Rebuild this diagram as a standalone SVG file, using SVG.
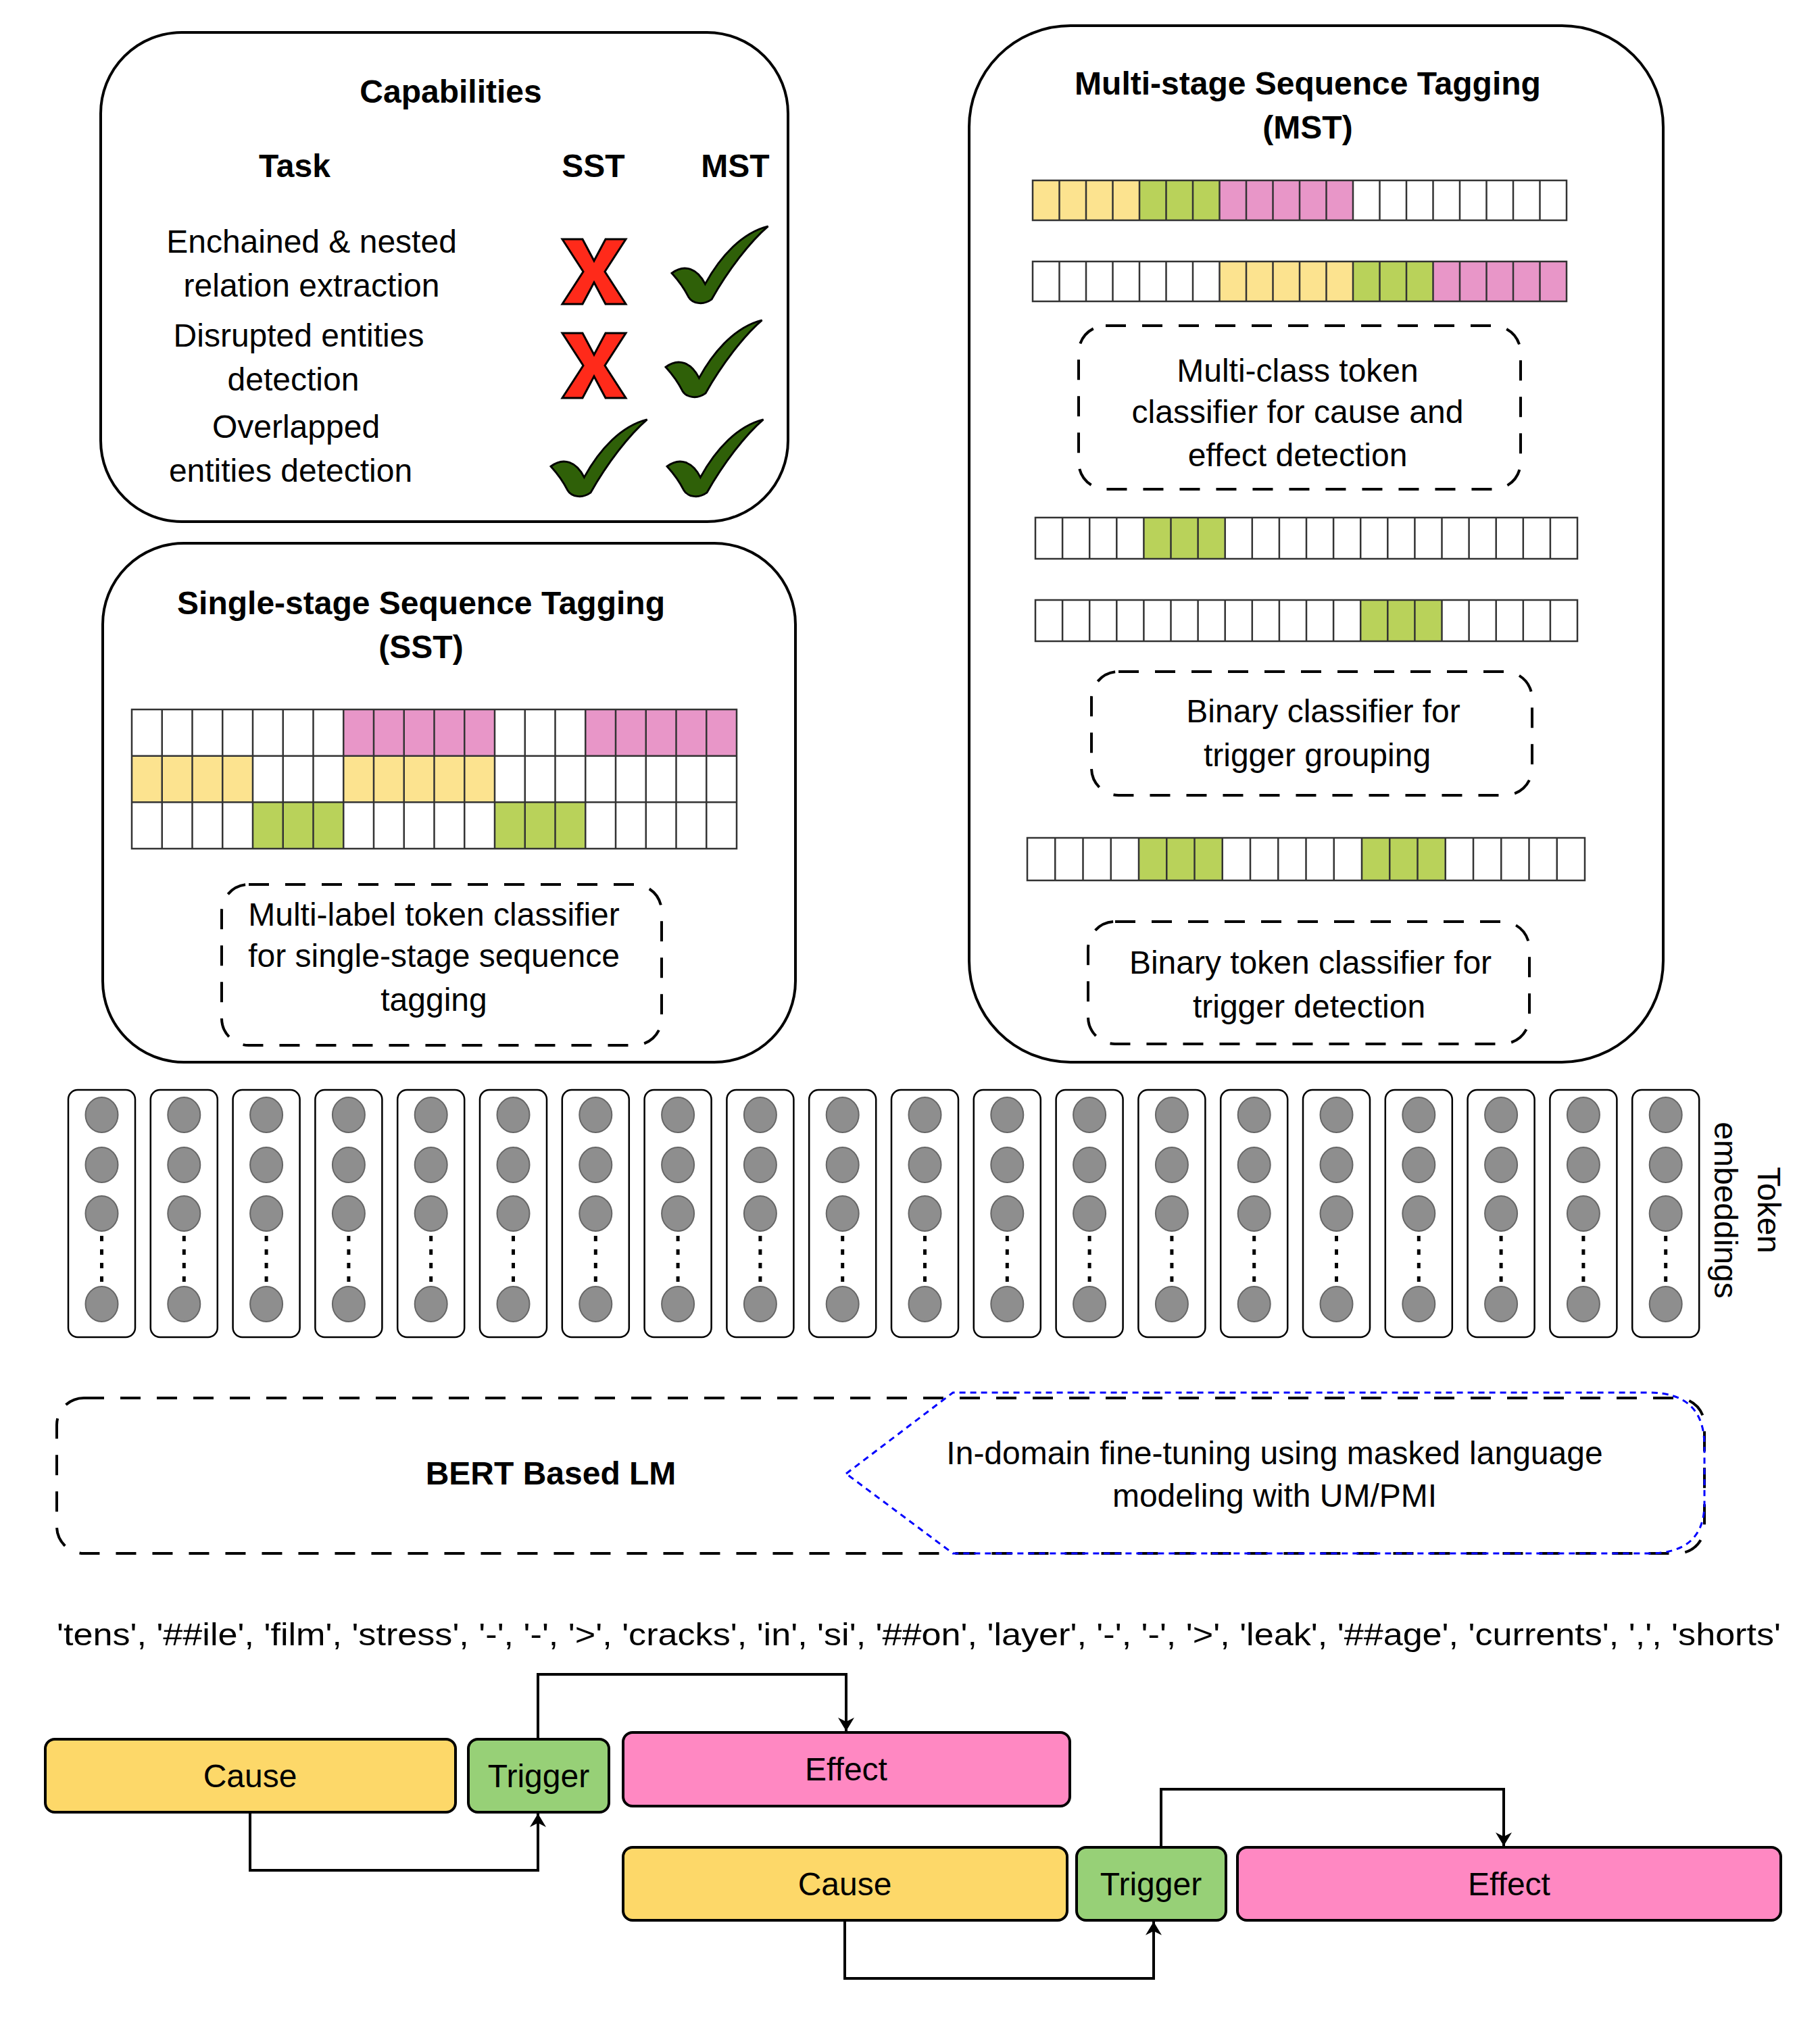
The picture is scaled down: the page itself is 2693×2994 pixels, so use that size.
<svg xmlns="http://www.w3.org/2000/svg" xmlns:xlink="http://www.w3.org/1999/xlink" width="2693" height="2994" viewBox="0 0 2693 2994">
<style>
text{font-family:"Liberation Sans",Arial,sans-serif;fill:#000}
.t{font-size:48px;text-anchor:middle}
.b{font-size:48px;font-weight:bold;text-anchor:middle}
.panel{fill:#fff;stroke:#000;stroke-width:4}
.dash{fill:none;stroke:#000;stroke-width:4;stroke-dasharray:30 24}
.cell{fill:none;stroke:#333;stroke-width:2.5}
.y{fill:#FCE38F}.p{fill:#E896C8}.g{fill:#B9D25A}
.conn{fill:none;stroke:#000;stroke-width:4}
.cause{fill:#FDD869;stroke:#000;stroke-width:4}
.trig{fill:#97D077;stroke:#000;stroke-width:4}
.eff{fill:#FF88C2;stroke:#000;stroke-width:4}
</style>
<defs>
<path id="check" d="M0,75 C20,60 40,68 52,92 C76,48 110,12 150,2 C122,26 88,70 62,116 C48,126 32,122 26,112 C18,96 10,86 0,75 Z" fill="#2F6008" stroke="#000" stroke-width="3"/>
<polygon id="xmark" points="0,0 30,0 47,32 64,0 94,0 63,48 94,96 64,96 47,64 30,96 0,96 31,48" fill="#FF2A1A" stroke="#000" stroke-width="3"/>
<g id="emb">
<rect x="0" y="0" width="99" height="366" rx="14" fill="#fff" stroke="#000" stroke-width="2.5"/>
<ellipse cx="49.5" cy="37" rx="24" ry="26" fill="#8E8E8E" stroke="#666" stroke-width="2"/>
<ellipse cx="49.5" cy="111" rx="24" ry="26" fill="#8E8E8E" stroke="#666" stroke-width="2"/>
<ellipse cx="49.5" cy="183" rx="24" ry="26" fill="#8E8E8E" stroke="#666" stroke-width="2"/>
<line x1="49.5" y1="216" x2="49.5" y2="288" stroke="#000" stroke-width="5" stroke-dasharray="8 12"/>
<ellipse cx="49.5" cy="317" rx="24" ry="26" fill="#8E8E8E" stroke="#666" stroke-width="2"/>
</g>
<marker id="arr" viewBox="0 0 20 24" refX="20" refY="12" markerWidth="20" markerHeight="24" markerUnits="userSpaceOnUse" orient="auto"><path d="M0,0 L20,12 L0,24 L6,12 Z" fill="#000"/></marker>
</defs>

<g id="capabilities">
<rect class="panel" x="149" y="48" width="1017" height="724" rx="120"/>
<text class="b" x="667" y="152">Capabilities</text>
<text class="b" x="436" y="262">Task</text>
<text class="b" x="878" y="262">SST</text>
<text class="b" x="1088" y="262">MST</text>
<text class="t" x="461" y="374">Enchained &amp; nested</text>
<text class="t" x="461" y="439">relation extraction</text>
<text class="t" x="442" y="513">Disrupted entities</text>
<text class="t" x="434" y="578">detection</text>
<text class="t" x="438" y="648">Overlapped</text>
<text class="t" x="430" y="713">entities detection</text>
<use href="#xmark" x="832" y="354"/>
<use href="#xmark" x="832" y="493"/>
<use href="#check" transform="translate(994,333) scale(0.95)"/>
<use href="#check" transform="translate(985,472) scale(0.95)"/>
<use href="#check" transform="translate(815,619) scale(0.95)"/>
<use href="#check" transform="translate(987,619) scale(0.95)"/>
</g>

<g id="sst">
<rect class="panel" x="152" y="804" width="1025" height="768" rx="120"/>
<text class="b" x="623" y="909">Single-stage Sequence Tagging</text>
<text class="b" x="623" y="974">(SST)</text>
<rect x="195" y="1050" width="895" height="206" fill="#fff"/>
<rect class="p" x="508.25" y="1050" width="223.75" height="68.7"/>
<rect class="p" x="866.25" y="1050" width="223.75" height="68.7"/>
<rect class="y" x="195" y="1118.7" width="179" height="68.6"/>
<rect class="y" x="508.25" y="1118.7" width="223.75" height="68.6"/>
<rect class="g" x="374" y="1187.3" width="134.25" height="68.7"/>
<rect class="g" x="732" y="1187.3" width="134.25" height="68.7"/>
<rect class="cell" x="195" y="1050" width="895" height="206"/>
<path class="cell" d="M195,1118.7H1090M195,1187.3H1090M239.75,1050V1256M284.5,1050V1256M329.25,1050V1256M374,1050V1256M418.75,1050V1256M463.5,1050V1256M508.25,1050V1256M553,1050V1256M597.75,1050V1256M642.5,1050V1256M687.25,1050V1256M732,1050V1256M776.75,1050V1256M821.5,1050V1256M866.25,1050V1256M911,1050V1256M955.75,1050V1256M1000.5,1050V1256M1045.25,1050V1256"/>
<rect class="dash" x="328" y="1309" width="651" height="238" rx="40"/>
<text class="t" x="642" y="1370">Multi-label token classifier</text>
<text class="t" x="642" y="1431">for single-stage sequence</text>
<text class="t" x="642" y="1496">tagging</text>
</g>

<g id="mst">
<rect class="panel" x="1434" y="38" width="1027" height="1534" rx="150"/>
<text class="b" x="1935" y="140">Multi-stage Sequence Tagging</text>
<text class="b" x="1935" y="205">(MST)</text>
<rect x="1528" y="267" width="790" height="59" fill="#fff"/>
<rect class="y" x="1528" y="267" width="158" height="59"/>
<rect class="g" x="1686" y="267" width="118.5" height="59"/>
<rect class="p" x="1804.5" y="267" width="197.5" height="59"/>
<rect class="cell" x="1528" y="267" width="790" height="59"/>
<path class="cell" d="M1567.5,267V326M1607,267V326M1646.5,267V326M1686,267V326M1725.5,267V326M1765,267V326M1804.5,267V326M1844,267V326M1883.5,267V326M1923,267V326M1962.5,267V326M2002,267V326M2041.5,267V326M2081,267V326M2120.5,267V326M2160,267V326M2199.5,267V326M2239,267V326M2278.5,267V326"/>
<rect x="1528" y="387" width="790" height="59" fill="#fff"/>
<rect class="y" x="1804.5" y="387" width="197.5" height="59"/>
<rect class="g" x="2002" y="387" width="118.5" height="59"/>
<rect class="p" x="2120.5" y="387" width="197.5" height="59"/>
<rect class="cell" x="1528" y="387" width="790" height="59"/>
<path class="cell" d="M1567.5,387V446M1607,387V446M1646.5,387V446M1686,387V446M1725.5,387V446M1765,387V446M1804.5,387V446M1844,387V446M1883.5,387V446M1923,387V446M1962.5,387V446M2002,387V446M2041.5,387V446M2081,387V446M2120.5,387V446M2160,387V446M2199.5,387V446M2239,387V446M2278.5,387V446"/>
<rect class="dash" x="1596" y="482" width="654" height="242" rx="40"/>
<text class="t" x="1920" y="565">Multi-class token</text>
<text class="t" x="1920" y="626">classifier for cause and</text>
<text class="t" x="1920" y="690">effect detection</text>
<rect x="1532" y="766" width="802" height="61" fill="#fff"/>
<rect class="g" x="1692.4" y="766" width="120.3" height="61"/>
<rect class="cell" x="1532" y="766" width="802" height="61"/>
<path class="cell" d="M1572.1,766V827M1612.2,766V827M1652.3,766V827M1692.4,766V827M1732.5,766V827M1772.6,766V827M1812.7,766V827M1852.8,766V827M1892.9,766V827M1933,766V827M1973.1,766V827M2013.2,766V827M2053.3,766V827M2093.4,766V827M2133.5,766V827M2173.6,766V827M2213.7,766V827M2253.8,766V827M2293.9,766V827"/>
<rect x="1532" y="888" width="802" height="61" fill="#fff"/>
<rect class="g" x="2013.2" y="888" width="120.3" height="61"/>
<rect class="cell" x="1532" y="888" width="802" height="61"/>
<path class="cell" d="M1572.1,888V949M1612.2,888V949M1652.3,888V949M1692.4,888V949M1732.5,888V949M1772.6,888V949M1812.7,888V949M1852.8,888V949M1892.9,888V949M1933,888V949M1973.1,888V949M2013.2,888V949M2053.3,888V949M2093.4,888V949M2133.5,888V949M2173.6,888V949M2213.7,888V949M2253.8,888V949M2293.9,888V949"/>
<rect class="dash" x="1615" y="994" width="652" height="183" rx="40"/>
<text class="t" x="1958" y="1069">Binary classifier for</text>
<text class="t" x="1949" y="1134">trigger grouping</text>
<rect x="1520" y="1240" width="825" height="63" fill="#fff"/>
<rect class="g" x="1685" y="1240" width="123.75" height="63"/>
<rect class="g" x="2015" y="1240" width="123.75" height="63"/>
<rect class="cell" x="1520" y="1240" width="825" height="63"/>
<path class="cell" d="M1561.25,1240V1303M1602.5,1240V1303M1643.75,1240V1303M1685,1240V1303M1726.25,1240V1303M1767.5,1240V1303M1808.75,1240V1303M1850,1240V1303M1891.25,1240V1303M1932.5,1240V1303M1973.75,1240V1303M2015,1240V1303M2056.25,1240V1303M2097.5,1240V1303M2138.75,1240V1303M2180,1240V1303M2221.25,1240V1303M2262.5,1240V1303M2303.75,1240V1303"/>
<rect class="dash" x="1610" y="1364" width="653" height="181" rx="40"/>
<text class="t" x="1939" y="1441">Binary token classifier for</text>
<text class="t" x="1937" y="1506">trigger detection</text>
</g>

<g id="embeddings">
<use href="#emb" x="101" y="1613"/><use href="#emb" x="222.8" y="1613"/><use href="#emb" x="344.6" y="1613"/><use href="#emb" x="466.4" y="1613"/><use href="#emb" x="588.2" y="1613"/>
<use href="#emb" x="710" y="1613"/><use href="#emb" x="831.8" y="1613"/><use href="#emb" x="953.6" y="1613"/><use href="#emb" x="1075.4" y="1613"/><use href="#emb" x="1197.2" y="1613"/>
<use href="#emb" x="1319" y="1613"/><use href="#emb" x="1440.8" y="1613"/><use href="#emb" x="1562.6" y="1613"/><use href="#emb" x="1684.4" y="1613"/><use href="#emb" x="1806.2" y="1613"/>
<use href="#emb" x="1928" y="1613"/><use href="#emb" x="2049.8" y="1613"/><use href="#emb" x="2171.6" y="1613"/><use href="#emb" x="2293.4" y="1613"/><use href="#emb" x="2415.2" y="1613"/>
<g transform="translate(2585,1791) rotate(90)">
<text class="t" x="0" y="-16">Token</text>
<text class="t" x="0" y="48">embeddings</text>
</g>
</g>

<g id="bert">
<rect class="dash" x="84" y="2069" width="2438" height="230" rx="40"/>
<text class="b" x="815" y="2197">BERT Based LM</text>
<path d="M1252,2181 L1410,2061 H2440 Q2522,2061 2522,2140 V2225 Q2522,2299 2440,2299 H1410 Z" fill="none" stroke="#0000FF" stroke-width="3" stroke-dasharray="9 7"/>
<text class="t" x="1886" y="2167">In-domain fine-tuning using masked language</text>
<text class="t" x="1886" y="2230">modeling with UM/PMI</text>
</g>

<g id="tokens">
<text x="84" y="2435" font-size="47" textLength="2551" lengthAdjust="spacingAndGlyphs">'tens', '##ile', 'film', 'stress', '-', '-', '&gt;', 'cracks', 'in', 'si', '##on', 'layer', '-', '-', '&gt;', 'leak', '##age', 'currents', ',', 'shorts'</text>
</g>

<g id="cause1"><rect class="cause" x="67" y="2574" width="607" height="108" rx="14"/><text class="t" x="370" y="2645">Cause</text></g>
<g id="trigger1"><rect class="trig" x="693" y="2574" width="208" height="108" rx="14"/><text class="t" x="797" y="2645">Trigger</text></g>
<g id="effect1"><rect class="eff" x="922" y="2564" width="661" height="109" rx="14"/><text class="t" x="1252" y="2635">Effect</text></g>
<g id="cause2"><rect class="cause" x="922" y="2734" width="657" height="108" rx="14"/><text class="t" x="1250" y="2805">Cause</text></g>
<g id="trigger2"><rect class="trig" x="1593" y="2734" width="221" height="108" rx="14"/><text class="t" x="1703" y="2805">Trigger</text></g>
<g id="effect2"><rect class="eff" x="1831" y="2734" width="804" height="108" rx="14"/><text class="t" x="2233" y="2805">Effect</text></g>

<g id="connectors">
<path class="conn" d="M370,2682 V2768 H796 V2684" marker-end="url(#arr)"/>
<path class="conn" d="M796,2574 V2478 H1252 V2562" marker-end="url(#arr)"/>
<path class="conn" d="M1250,2842 V2928 H1707 V2844" marker-end="url(#arr)"/>
<path class="conn" d="M1718,2734 V2648 H2225 V2732" marker-end="url(#arr)"/>
</g>
</svg>
